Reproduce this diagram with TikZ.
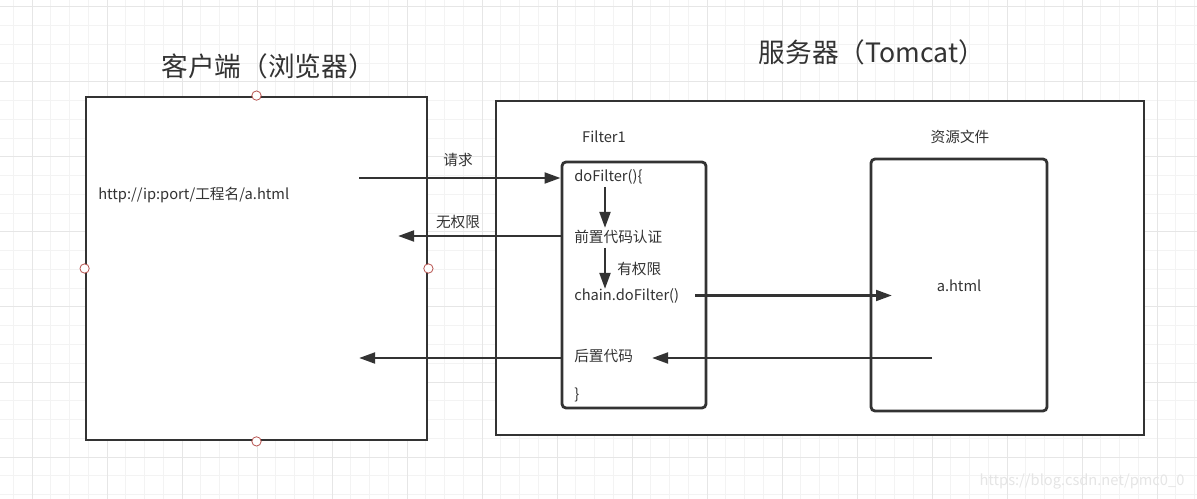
\documentclass[tikz,border=0pt]{standalone}
\usepackage{fontspec}
\setmainfont{Noto Sans CJK SC}
\usetikzlibrary{arrows.meta,calc}
\definecolor{ink}{HTML}{333333}
\definecolor{gridminor}{HTML}{F3F3F3}
\definecolor{gridmajor}{HTML}{E6E6E6}
\definecolor{handle}{HTML}{B85450}
\tikzset{
  box/.style={draw=ink, line width=2.1pt, fill=white, inner sep=0pt},
  rbox/.style={box, rounded corners=3pt},
  txt/.style={text=ink, inner sep=0pt, font=\fontsize{11pt}{13pt}\selectfont},
  ltxt/.style={txt, anchor=west},
  title/.style={text=ink, inner sep=0pt, font=\fontsize{20pt}{24pt}\selectfont},
  arr/.style={draw=ink, line width=2.1pt, -{Triangle[length=12pt,width=8pt]}},
  handledot/.style={circle, draw=handle, fill=white, line width=0.6pt, minimum size=7pt, inner sep=0pt},
}
\begin{document}
\begin{tikzpicture}[x=0.75pt,y=-0.75pt]
\useasboundingbox (0,0) rectangle (1197,499);
\fill[white] (0,0) rectangle (1197,499);
% grid
\foreach \i in {0,...,64} {
  \pgfmathsetmacro{\xx}{13.25+18.75*\i}
  \draw[gridminor, line width=0.75pt] (\xx,0) -- (\xx,499);
}
\foreach \i in {0,...,27} {
  \pgfmathsetmacro{\yy}{7+18.75*\i}
  \draw[gridminor, line width=0.75pt] (0,\yy) -- (1197,\yy);
}
\foreach \i in {0,...,16} {
  \pgfmathsetmacro{\xx}{32+75*\i}
  \draw[gridmajor, line width=0.75pt] (\xx,0) -- (\xx,499);
}
\foreach \i in {0,...,6} {
  \pgfmathsetmacro{\yy}{7+75*\i}
  \draw[gridmajor, line width=0.75pt] (0,\yy) -- (1197,\yy);
}
% watermark
\node[text=black!10, inner sep=0pt, font=\fontsize{11pt}{13pt}\selectfont] (wm) at (1082,481) {https://blog.csdn.net/pmc0\_0};

% boxes
\node[box, minimum width=255.75pt, minimum height=257.25pt] (client) at (256.5,268.5) {};
\node[box, minimum width=486pt, minimum height=250.5pt] (server) at (820,268) {};
\node[rbox, minimum width=108pt, minimum height=184.5pt] (filter) at (634,285) {};
\node[rbox, minimum width=132pt, minimum height=189pt] (res) at (959,285) {};

% handles on client box
\node[handledot] (h1) at (client.north) {};
\node[handledot] (h2) at (client.south) {};
\node[handledot] (h3) at (client.west) {};
\node[handledot] (h4) at (client.east) {};

% titles
\node[title] (ctitle) at (268,66) {客户端（浏览器）};
\node[title] (stitle) at (872,52) {服务器（Tomcat）};
\node[txt] (ftitle) at (604,137) {Filter1};
\node[txt] (rtitle) at (960,137) {资源文件};

% texts
\node[ltxt] (url) at (98,195) {http://ip:port/工程名/a.html};
\node[txt] (req) at (458,160) {请求};
\node[txt] (noauth) at (458,222) {无权限};
\node[ltxt] (dof) at (574,177) {doFilter()\{};
\node[ltxt] (pre) at (574,237) {前置代码认证};
\node[ltxt] (auth) at (617,269) {有权限};
\node[ltxt] (chain) at (574,296) {chain.doFilter()};
\node[ltxt] (post) at (574,356) {后置代码};
\node[ltxt] (close) at (574,395) {\}};
\node[txt] (ahtml) at (959,286) {a.html};

% connectors
\coordinate (reqS) at (359,178);
\draw[arr] (reqS) -- (reqS -| filter.west);
\coordinate (noE) at (398,236);
\draw[arr] (filter.west |- noE) -- (noE);
\coordinate (d1s) at (605,187);
\coordinate (d1e) at (605,228);
\draw[arr] (d1s) -- (d1e);
\coordinate (d2s) at (605,248);
\coordinate (d2e) at (605,289);
\draw[arr] (d2s) -- (d2e);
\coordinate (chS) at (695,295.5);
\coordinate (chE) at (892,295.5);
\draw[arr] (chS) -- (chE);
\coordinate (resS) at (932,358);
\coordinate (postE) at (652,358);
\draw[arr] (resS) -- (postE);
\coordinate (cliE) at (359,358);
\draw[arr] (filter.west |- cliE) -- (cliE);
\end{tikzpicture}
\end{document}
